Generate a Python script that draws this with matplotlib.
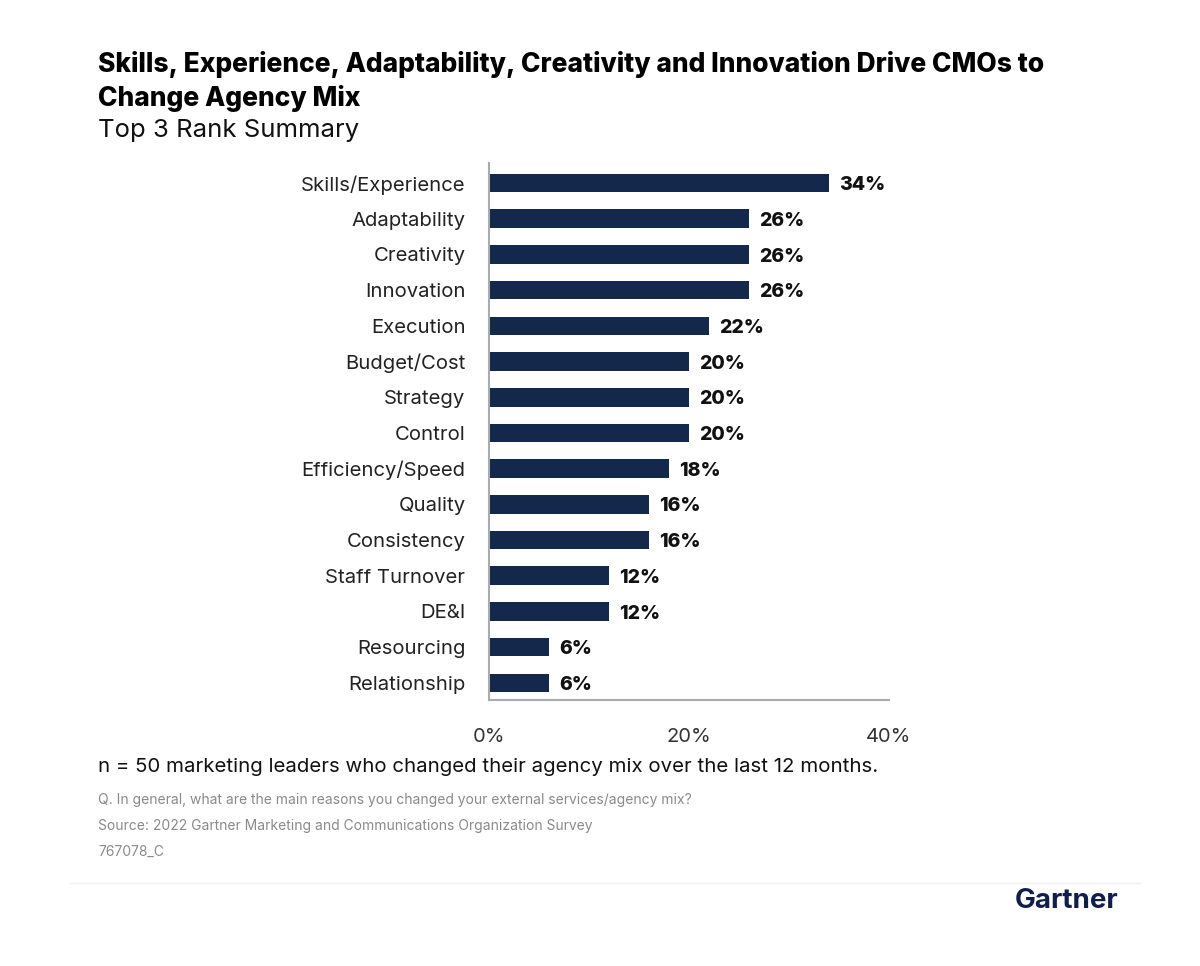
import matplotlib
matplotlib.use("Agg")
import matplotlib.pyplot as plt
from matplotlib.ticker import FuncFormatter

categories = ["Skills/Experience", "Adaptability", "Creativity", "Innovation", "Execution",
              "Budget/Cost", "Strategy", "Control", "Efficiency/Speed", "Quality",
              "Consistency", "Staff Turnover", "DE&I", "Resourcing", "Relationship"]
values = [34, 26, 26, 26, 22, 20, 20, 20, 18, 16, 16, 12, 12, 6, 6]
xticks = [0, 20, 40]

FONT = ["Inter", "DejaVu Sans"]
plt.rcParams['font.family'] = FONT

W, H = 1200, 966
fig = plt.figure(figsize=(W / 100, H / 100), dpi=100)

def fx(px):
    return px / W

def fy(py):
    return 1 - py / H

ax = fig.add_axes([fx(489), fy(700), fx(889) - fx(489), fy(163) - fy(700)])
navy = "#13284b"
ypos = list(range(len(categories)))
ax.barh(ypos, values, height=0.52, color=navy)
ax.set_xlim(0, 40)
ax.set_ylim(14.48, -0.56)
ax.set_yticks(ypos)
ax.set_yticklabels(categories, fontsize=14.6, color="#222222")
ax.set_xticks(xticks)
ax.xaxis.set_major_formatter(FuncFormatter(lambda v, p: f"{int(v)}%"))
ax.tick_params(axis="x", length=0, pad=20, labelsize=14.5, labelcolor="#333333")
ax.tick_params(axis="y", length=0, pad=17)
for s in ["top", "right"]:
    ax.spines[s].set_visible(False)
for s in ["left", "bottom"]:
    ax.spines[s].set_color("#a8acb0")
    ax.spines[s].set_linewidth(1.5)

for y, v in zip(ypos, values):
    ax.text(v + 1.0, y + 0.06, f"{v}%", va="center", ha="left", fontsize=14,
            fontweight=800, color="#111111")

fig.text(fx(98), fy(64), "Skills, Experience, Adaptability, Creativity and Innovation Drive CMOs to",
         fontsize=19, fontweight=800, va="center", ha="left", color="#000000")
fig.text(fx(98), fy(98), "Change Agency Mix",
         fontsize=19, fontweight=800, va="center", ha="left", color="#000000")
fig.text(fx(98), fy(130), "Top 3 Rank Summary",
         fontsize=18.5, va="center", ha="left", color="#111111")

fig.text(fx(98), fy(767), "n = 50 marketing leaders who changed their agency mix over the last 12 months.",
         fontsize=14.7, va="center", ha="left", color="#111111")
fig.text(fx(98), fy(800), "Q. In general, what are the main reasons you changed your external services/agency mix?",
         fontsize=10, va="center", ha="left", color="#8a8a8a")
fig.text(fx(98), fy(826), "Source: 2022 Gartner Marketing and Communications Organization Survey",
         fontsize=10, va="center", ha="left", color="#8a8a8a")
fig.text(fx(98), fy(852), "767078_C",
         fontsize=10, va="center", ha="left", color="#8a8a8a")

fig.add_artist(plt.Line2D([fx(70), fx(1140)], [fy(883), fy(883)], color="#f0f0f0", linewidth=1))
fig.text(fx(1118), fy(901), "Gartner", fontsize=20, fontweight="bold", va="center", ha="right",
         color="#0f1f4a")

fig.savefig("out.png", dpi=100, facecolor="white")
